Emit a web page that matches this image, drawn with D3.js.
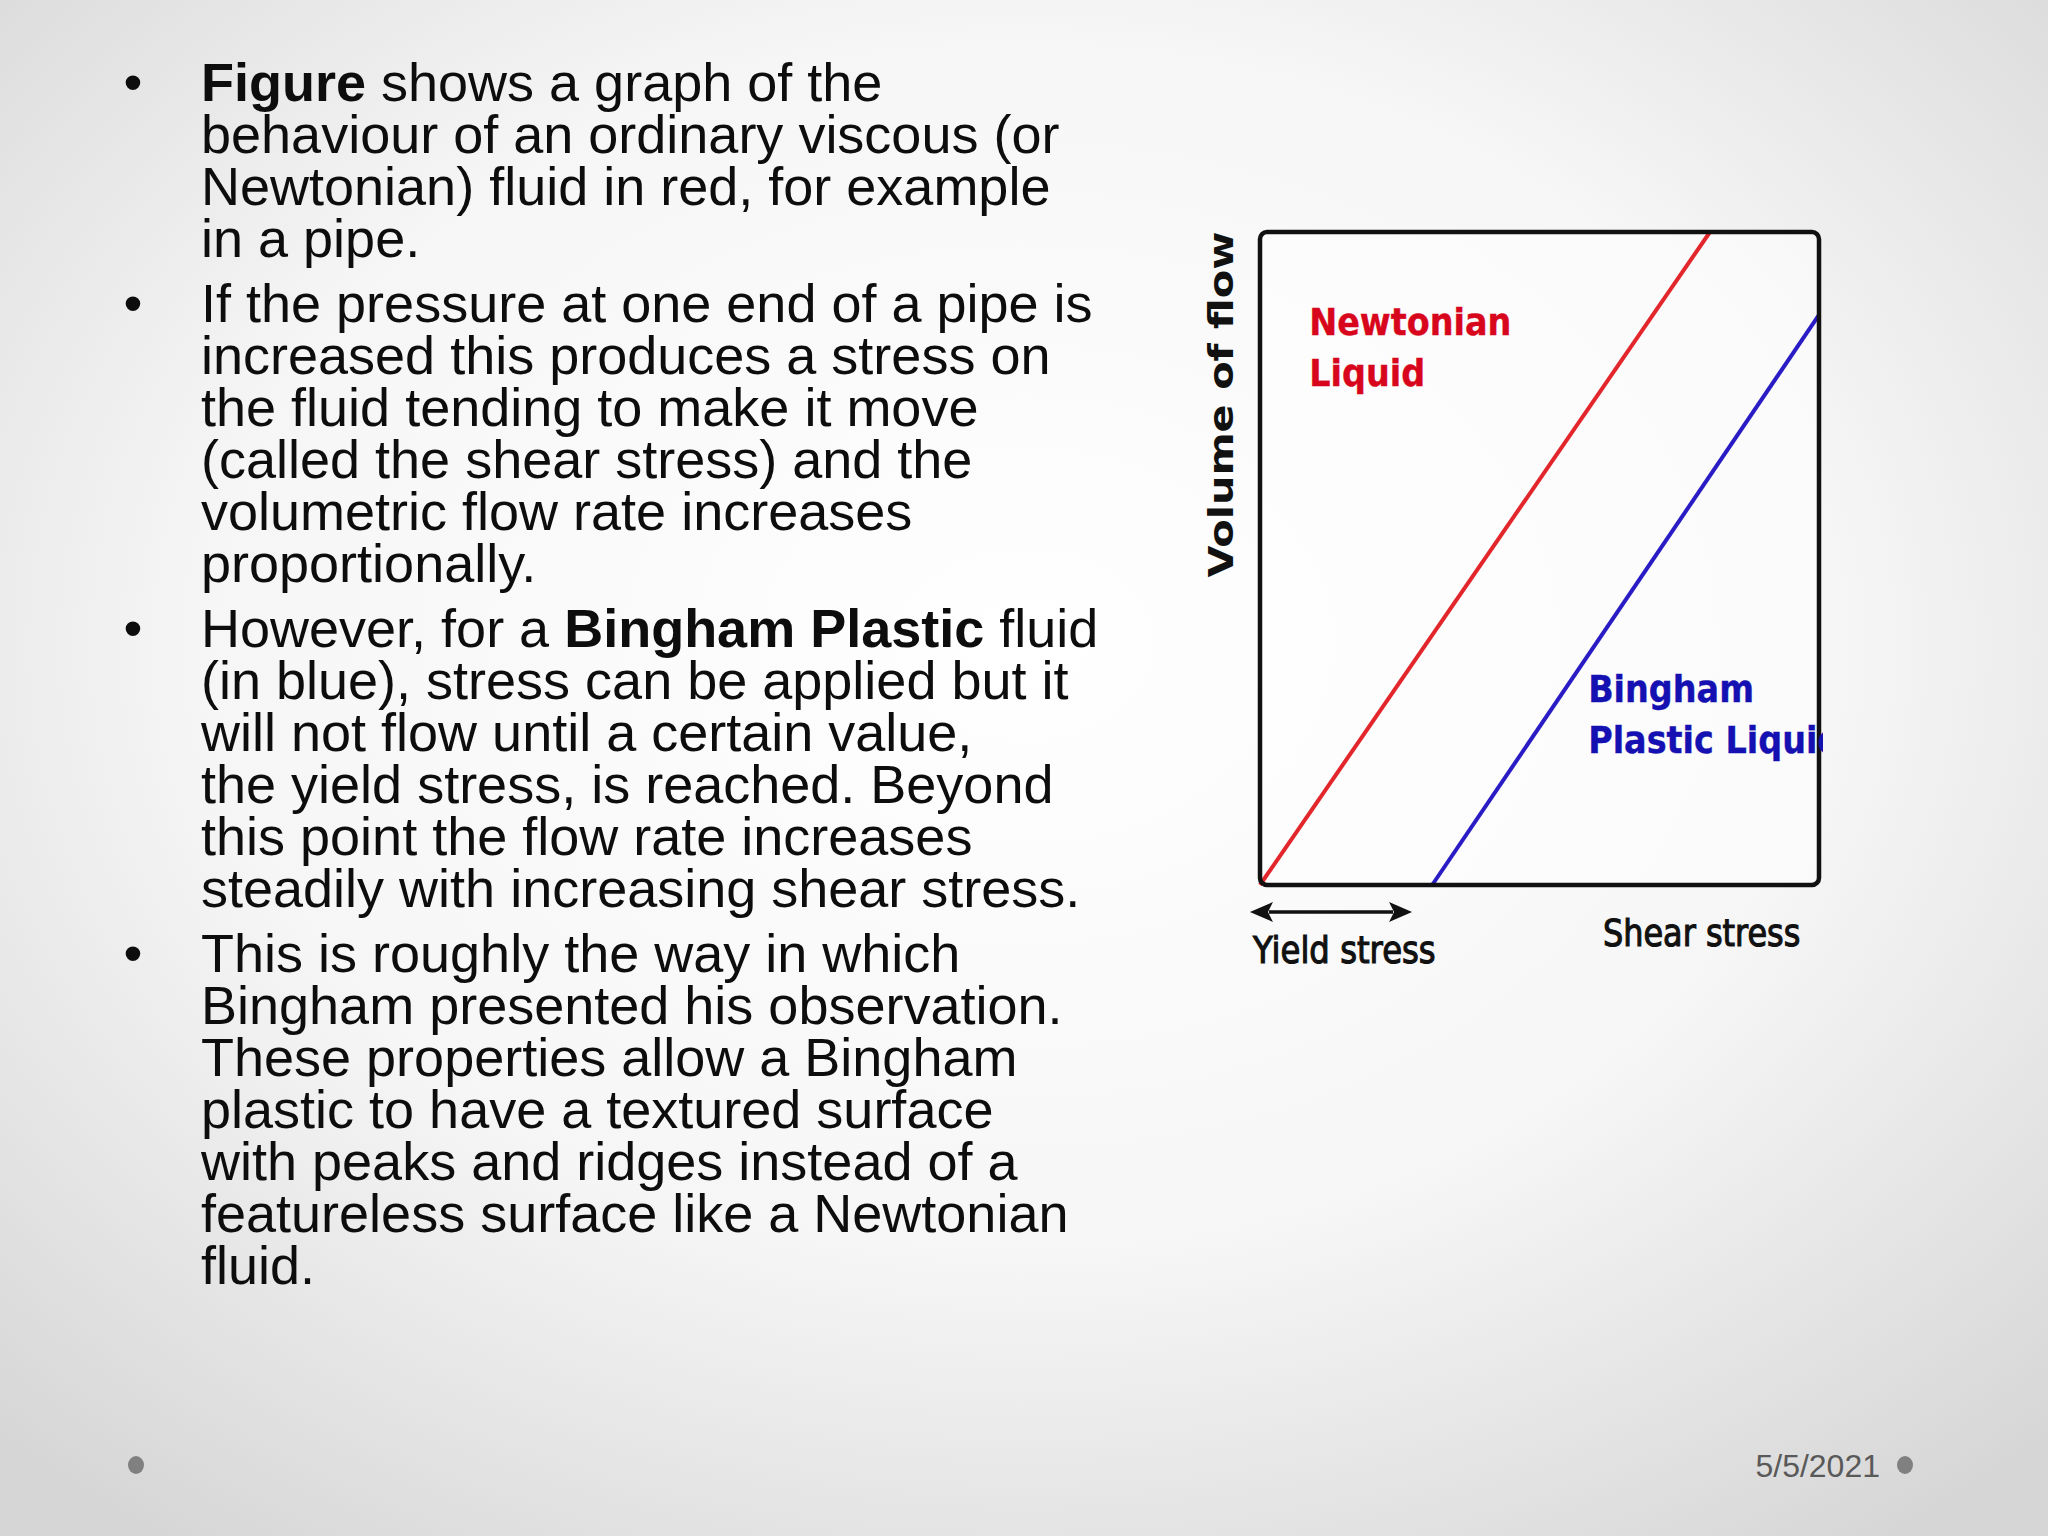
<!DOCTYPE html>
<html>
<head>
<meta charset="utf-8">
<script src="https://cdn.jsdelivr.net/npm/d3@7"></script>
<style>
  html, body { margin: 0; padding: 0; background: #f0f0f0; }
  svg { display: block; }
</style>
</head>
<body>
<div id="slide"></div>
<script>
// Slide size
var svgWidth = 2048;
var svgHeight = 1536;

// Bullet text, one array per paragraph, bold parts wrapped in *...*
var para1 = [
    "*Figure* shows a graph of the",
    "behaviour of an ordinary viscous (or",
    "Newtonian) fluid in red, for example",
    "in a pipe."
];
var para2 = [
    "If the pressure at one end of a pipe is",
    "increased this produces a stress on",
    "the fluid tending to make it move",
    "(called the shear stress) and the",
    "volumetric flow rate increases",
    "proportionally."
];
var para3 = [
    "However, for a *Bingham Plastic* fluid",
    "(in blue), stress can be applied but it",
    "will not flow until a certain value,",
    "the yield stress, is reached. Beyond",
    "this point the flow rate increases",
    "steadily with increasing shear stress."
];
var para4 = [
    "This is roughly the way in which",
    "Bingham presented his observation.",
    "These properties allow a Bingham",
    "plastic to have a textured surface",
    "with peaks and ridges instead of a",
    "featureless surface like a Newtonian",
    "fluid."
];
var paragraphs = [para1, para2, para3, para4];

// Chart data: shear stress (x) vs volume of flow (y), both 0..100
var newtonianX = [0, 80.5];
var newtonianY = [0, 100];
var binghamX = [30.8, 100];
var binghamY = [0, 87.3];
var yieldArrowX = [-1.8, 27.2];
var footerDate = "5/5/2021";

var svg = d3.select("#slide")
    .append("svg")
    .attr("width", svgWidth)
    .attr("height", svgHeight);

// Background gradient
var defs = svg.append("defs");
var grad = defs.append("radialGradient")
    .attr("id", "bg")
    .attr("cx", "50%").attr("cy", "42%").attr("r", "72%");
grad.append("stop").attr("offset", "0").attr("stop-color", "#ffffff");
grad.append("stop").attr("offset", "0.55").attr("stop-color", "#f6f6f6");
grad.append("stop").attr("offset", "1").attr("stop-color", "#d6d6d6");

svg.append("rect")
    .attr("width", svgWidth)
    .attr("height", svgHeight)
    .attr("fill", "url(#bg)");

// ---------- Left bullet text ----------
var textGroup = svg.append("g")
    .attr("font-family", "'Liberation Sans', Arial, sans-serif")
    .attr("font-size", "54px")
    .attr("fill", "#0d0d0d");

var lineHeight = 52;
var paraGap = 13;
var baseline = 101;

paragraphs.forEach(function(lines) {
    textGroup.append("text")
        .attr("x", 133)
        .attr("y", baseline)
        .attr("text-anchor", "middle")
        .text("\u2022");

    lines.forEach(function(line) {
        var t = textGroup.append("text")
            .attr("x", 201)
            .attr("y", baseline);
        line.split("*").forEach(function(part, i) {
            if (part === "") return;
            t.append("tspan")
                .attr("font-weight", i % 2 === 1 ? "bold" : "normal")
                .text(part);
        });
        baseline += lineHeight;
    });
    baseline += paraGap;
});

// ---------- Chart ----------
var xScale = d3.scaleLinear().domain([0, 100]).range([1260, 1819]);
var yScale = d3.scaleLinear().domain([0, 100]).range([885, 232]);

var chartGroup = svg.append("g");

defs.append("clipPath").attr("id", "clipChart")
    .append("rect")
    .attr("x", 1150).attr("y", 150)
    .attr("width", 1823 - 1150).attr("height", 900);

chartGroup.append("rect")
    .attr("x", xScale(0)).attr("y", yScale(100))
    .attr("width", xScale(100) - xScale(0))
    .attr("height", yScale(0) - yScale(100))
    .attr("fill", "#ffffff")
    .attr("opacity", 0.55);

var line = d3.line()
    .x(function(d) { return xScale(d[0]); })
    .y(function(d) { return yScale(d[1]); });

chartGroup.append("path")
    .datum(d3.zip(newtonianX, newtonianY))
    .attr("d", line)
    .attr("fill", "none")
    .attr("stroke", "#e2262b")
    .attr("stroke-width", 4);

chartGroup.append("path")
    .datum(d3.zip(binghamX, binghamY))
    .attr("d", line)
    .attr("fill", "none")
    .attr("stroke", "#2a1cc4")
    .attr("stroke-width", 4);

// Frame
chartGroup.append("rect")
    .attr("x", xScale(0)).attr("y", yScale(100))
    .attr("width", xScale(100) - xScale(0))
    .attr("height", yScale(0) - yScale(100))
    .attr("rx", 7)
    .attr("fill", "none")
    .attr("stroke", "#111")
    .attr("stroke-width", 4.5);

// Series labels (image is squeezed horizontally)
var labelFont = "'DejaVu Sans', Verdana, sans-serif";

function addLabel(lines, xv, yv, color, weight, sx) {
    var g = chartGroup.append("g")
        .attr("clip-path", "url(#clipChart)")
        .append("g")
        .attr("transform", "translate(" + xScale(xv) + "," + yScale(yv) + ") scale(" + sx + ",1)");
    lines.forEach(function(txt, i) {
        g.append("text")
            .attr("x", 0)
            .attr("y", i * 51)
            .attr("font-family", labelFont)
            .attr("font-weight", weight)
            .attr("font-size", "38px")
            .attr("fill", color)
            .attr("stroke", color)
            .attr("stroke-width", 0.4)
            .text(txt);
    });
}

addLabel(["Newtonian", "Liquid"], 8.8, 84.2, "#d8061c", "bold", 0.88);
addLabel(["Bingham", "Plastic Liquid"], 58.7, 28.0, "#1510b2", "bold", 0.88);

// Axis titles
chartGroup.append("text")
    .attr("transform", "translate(1233," + ((yScale(100) + 577) / 2) + ") rotate(-90)")
    .attr("text-anchor", "middle")
    .attr("font-family", labelFont)
    .attr("font-weight", "bold")
    .attr("font-size", "33px")
    .attr("textLength", 346)
    .attr("lengthAdjust", "spacingAndGlyphs")
    .attr("fill", "#111")
    .text("Volume of flow");

chartGroup.append("g")
    .attr("transform", "translate(1603,946) scale(0.84,1)")
    .append("text")
    .attr("font-family", labelFont)
    .attr("font-size", "38px")
    .attr("fill", "#111")
    .attr("stroke", "#111")
    .attr("stroke-width", 1.2)
    .text("Shear stress");

chartGroup.append("g")
    .attr("transform", "translate(1253,963) scale(0.85,1)")
    .append("text")
    .attr("font-family", labelFont)
    .attr("font-size", "38px")
    .attr("fill", "#111")
    .attr("stroke", "#111")
    .attr("stroke-width", 1.2)
    .text("Yield stress");

// Yield stress arrow
var arrowY = 912;
var ax0 = xScale(yieldArrowX[0]);
var ax1 = xScale(yieldArrowX[1]);
var headLen = 23, headHalf = 10;

chartGroup.append("line")
    .attr("x1", ax0 + headLen - 4).attr("x2", ax1 - headLen + 4)
    .attr("y1", arrowY).attr("y2", arrowY)
    .attr("stroke", "#111")
    .attr("stroke-width", 3.5);

chartGroup.append("path")
    .attr("d", "M" + ax0 + "," + arrowY + " L" + (ax0 + headLen) + "," + (arrowY - headHalf) +
        " L" + (ax0 + headLen - 5) + "," + arrowY + " L" + (ax0 + headLen) + "," + (arrowY + headHalf) + "Z")
    .attr("fill", "#111");

chartGroup.append("path")
    .attr("d", "M" + ax1 + "," + arrowY + " L" + (ax1 - headLen) + "," + (arrowY - headHalf) +
        " L" + (ax1 - headLen + 5) + "," + arrowY + " L" + (ax1 - headLen) + "," + (arrowY + headHalf) + "Z")
    .attr("fill", "#111");

// ---------- Footer ----------
svg.append("ellipse")
    .attr("cx", 136).attr("cy", 1465)
    .attr("rx", 8).attr("ry", 9)
    .attr("fill", "#808080");

svg.append("ellipse")
    .attr("cx", 1905).attr("cy", 1465)
    .attr("rx", 8).attr("ry", 9)
    .attr("fill", "#808080");

svg.append("text")
    .attr("x", 1880)
    .attr("y", 1477)
    .attr("text-anchor", "end")
    .attr("font-family", "'Liberation Sans', Arial, sans-serif")
    .attr("font-size", "32px")
    .attr("fill", "#595959")
    .text(footerDate);
</script>
</body>
</html>
